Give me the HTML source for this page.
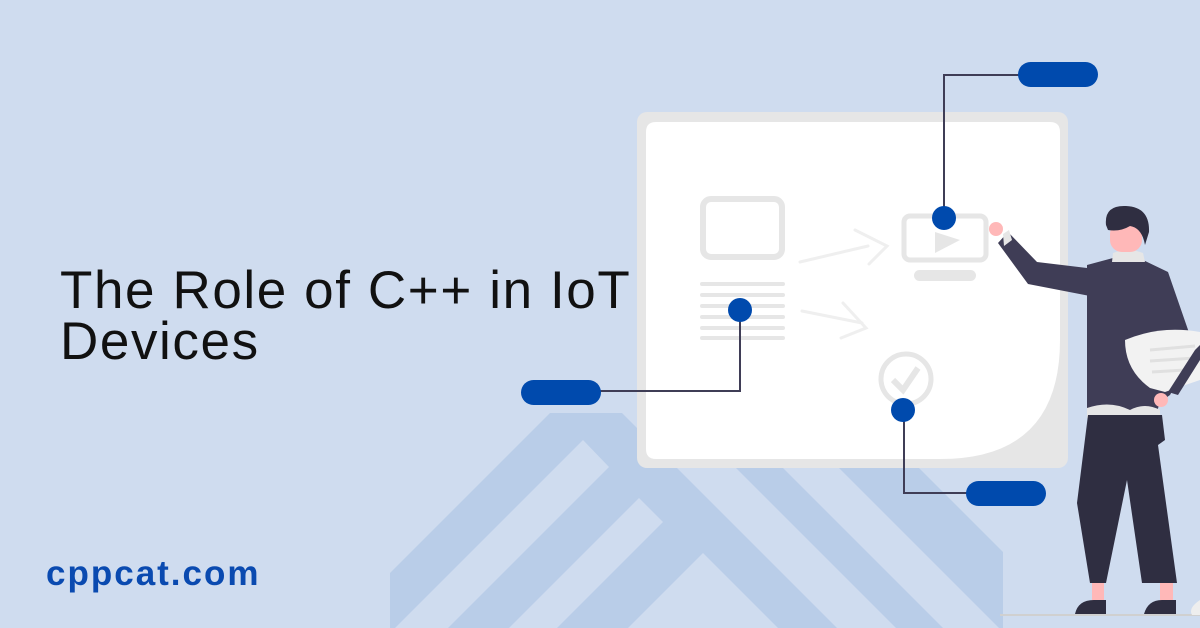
<!DOCTYPE html>
<html><head><meta charset="utf-8"><style>
html,body{margin:0;padding:0}
body{width:1200px;height:628px;overflow:hidden;background:#cfdcef;position:relative;font-family:"Liberation Sans",sans-serif}
svg{position:absolute;left:0;top:0}
.t{position:absolute;left:60px;top:265px;font-size:53px;line-height:51px;color:#111;font-weight:normal;letter-spacing:1.6px}
.u{position:absolute;left:46px;top:554px;font-size:35px;font-weight:bold;color:#0a4ab0;letter-spacing:2px}
</style></head><body>
<svg width="1200" height="628" viewBox="0 0 1200 628">
<defs><clipPath id="roof"><polygon points="390,628 390,573 550,413 864,413 1003,552 1003,628"/></clipPath></defs>
<polygon points="390,628 390,573 550,413 864,413 1003,552 1003,628" fill="#b9cde8"/>
<g clip-path="url(#roof)" fill="#cfdcef">
<polygon points="583,440 609,467 448,628 395,628"/>
<polygon points="639,498 663,522 557,628 509,628"/>
<polygon points="703,553 778,628 628,628"/>
<polygon points="609,400 668,400 908,640 849,640"/>
<polygon points="715,400 771,400 1011,640 955,640"/>
</g>
<rect x="637" y="112" width="431" height="356" rx="10" fill="#e6e6e6"/>
<path d="M656,122 H1050 Q1060,122 1060,132 V340 Q1060,459 940,459 H656 Q646,459 646,449 V132 Q646,122 656,122 Z" fill="#fff"/>
<rect x="703" y="199" width="79" height="58" rx="8" fill="none" stroke="#e6e6e6" stroke-width="6"/>
<g stroke="#e6e6e6" stroke-width="4" stroke-linecap="round">
<line x1="702" y1="284" x2="783" y2="284"/><line x1="702" y1="295" x2="783" y2="295"/>
<line x1="702" y1="306" x2="783" y2="306"/><line x1="702" y1="317" x2="783" y2="317"/>
<line x1="702" y1="328" x2="783" y2="328"/><line x1="702" y1="338" x2="783" y2="338"/>
</g>
<g stroke="#efefef" stroke-width="3" fill="none" stroke-linecap="round">
<path d="M800,262 L868,246 M855,230 L887,246 L869,264"/>
<path d="M802,311 L862,323 M843,303 L866,328 L841,338"/>
</g>
<rect x="904" y="216" width="82" height="44" rx="6" fill="none" stroke="#e6e6e6" stroke-width="5"/>
<polygon points="935,232 935,253 960,240" fill="#e6e6e6"/>
<rect x="914" y="270" width="62" height="11" rx="5.5" fill="#e6e6e6"/>
<circle cx="906" cy="379" r="25" fill="none" stroke="#e6e6e6" stroke-width="5"/>
<path d="M893,380 L903,390 L918,368" fill="none" stroke="#e6e6e6" stroke-width="6"/>
<g stroke="#3f3d56" stroke-width="2" fill="none">
<polyline points="944,218 944,75 1020,75"/>
<polyline points="740,310 740,391 590,391"/>
<polyline points="904,410 904,493 975,493"/>
</g>
<g fill="#004aad">
<rect x="1018" y="62" width="80" height="25" rx="12.5"/>
<rect x="521" y="380" width="80" height="25" rx="12.5"/>
<rect x="966" y="481" width="80" height="25" rx="12.5"/>
<circle cx="944" cy="218" r="12"/><circle cx="740" cy="310" r="12"/><circle cx="903" cy="410" r="12"/>
</g>
<line x1="1000" y1="615" x2="1200" y2="615" stroke="#d0d0d0" stroke-width="2"/>
<path d="M1200,600 Q1188,608 1192,615 H1200 Z" fill="#eee"/>
<circle cx="996" cy="229" r="7" fill="#ffb8b8"/>
<path d="M1087,268 L1037,262 L1008,232 L998,243 L1028,284 L1090,296 Z" fill="#3f3d56"/>
<path d="M1003,234 L1009,230 L1012,240 L1004,246 Z" fill="#e6e6e6"/>
<path d="M1087,265 L1113,258 L1143,260 L1168,272 L1195,350 L1170,395 L1160,402 L1155,418 L1087,415 Z" fill="#3f3d56"/>
<path d="M1125,340 Q1160,325 1200,332 L1200,380 L1165,392 L1150,388 Q1125,370 1125,340 Z" fill="#f2f2f2"/>
<g stroke="#e0e0e0" stroke-width="3"><line x1="1150" y1="350" x2="1195" y2="346"/><line x1="1150" y1="361" x2="1195" y2="358"/><line x1="1152" y1="372" x2="1185" y2="370"/></g>
<path d="M1195,350 L1200,345 L1200,360 L1178,395 L1168,392 Z" fill="#3f3d56"/>
<circle cx="1161" cy="400" r="7" fill="#ffb8b8"/>
<path d="M1087,408 Q1110,400 1130,410 Q1145,402 1160,410 L1160,418 L1087,418 Z" fill="#e6e6e6"/>
<path d="M1113,253 Q1128,247 1143,253 L1145,262 L1112,262 Z" fill="#e6e6e6"/>
<rect x="1110" y="222" width="32" height="30" rx="12" fill="#ffb8b8"/>
<path d="M1106,225 Q1104,205 1126,206 Q1150,207 1149,232 L1145,245 Q1142,228 1130,226 Q1120,232 1108,230 Z" fill="#2f2e41"/>
<path d="M1088,415 L1162,415 L1165,440 L1158,445 L1177,583 L1142,583 L1127,480 L1106,583 L1090,583 L1077,503 Z" fill="#2f2e41"/>
<rect x="1092" y="583" width="12" height="18" fill="#ffb8b8"/>
<rect x="1160" y="583" width="13" height="18" fill="#ffb8b8"/>
<path d="M1075,614 Q1078,600 1094,600 L1106,600 L1106,614 Z" fill="#2f2e41"/>
<path d="M1144,614 Q1148,600 1162,600 L1176,600 L1176,614 Z" fill="#2f2e41"/>
</svg>
<div class="t">The Role of C++ in IoT<br>Devices</div>
<div class="u">cppcat.com</div>
</body></html>
